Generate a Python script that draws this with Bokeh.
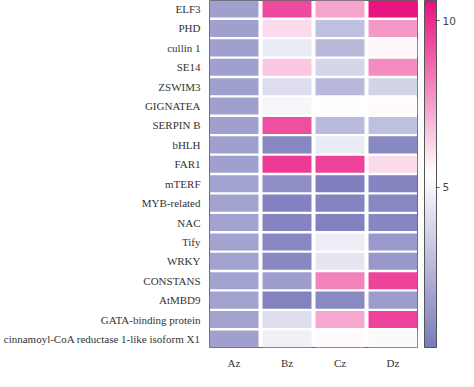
import numpy as np
from bokeh.plotting import figure
from bokeh.models import (ColumnDataSource, LinearColorMapper, ColorBar, FixedTicker,
                          Range1d)
from bokeh.embed import file_html
from bokeh.resources import INLINE

genes = ["ELF3", "PHD", "cullin 1", "SE14", "ZSWIM3", "GIGNATEA", "SERPIN B", "bHLH",
         "FAR1", "mTERF", "MYB-related", "NAC", "Tify", "WRKY", "CONSTANS", "AtMBD9",
         "GATA-binding protein", "cinnamoyl-CoA reductase 1-like isoform X1"]
samples = ["Az", "Bz", "Cz", "Dz"]

az = [1.7, 1.7, 1.7, 1.7, 1.7, 1.7, 1.7, 1.7, 1.7, 1.8, 1.8, 1.8, 1.8, 1.8, 1.8, 1.8, 1.8, 1.7]
bz = [9.3, 6.2, 4.6, 6.6, 4.1, 5.0, 9.2, 0.7, 9.7, 1.0, 0.5, 0.6, 0.7, 0.7, 1.6, 0.55, 4.1, 4.8]
cz = [7.4, 2.9, 2.6, 3.8, 2.6, 5.4, 2.7, 4.6, 9.5, 0.4, 0.6, 0.5, 4.7, 4.4, 8.1, 0.8, 7.3, 5.5]
dz = [10.5, 7.6, 5.6, 7.9, 3.7, 5.5, 2.9, 0.75, 6.2, 0.6, 0.7, 0.65, 1.4, 1.3, 9.5, 1.5, 9.5, 5.2]
series = [az, bz, cz, dz]

cbar_ticks = [5, 10]
vmin, vmax = 0.2, 10.6


def make_palette(stops, n=256):
    out = []
    pos = np.linspace(0, 1, len(stops))
    rgb = [tuple(int(s[i:i + 2], 16) for i in (1, 3, 5)) for s in stops]
    for t in np.linspace(0, 1, n):
        k = min(int(t * (len(stops) - 1)), len(stops) - 2)
        f = (t - pos[k]) / (pos[k + 1] - pos[k])
        c = [round(rgb[k][j] + (rgb[k + 1][j] - rgb[k][j]) * f) for j in range(3)]
        out.append("#%02x%02x%02x" % tuple(c))
    return out


palette = make_palette(["#7b7bbc", "#ffffff", "#e8117f"])
mapper = LinearColorMapper(palette=palette, low=vmin, high=vmax)

xs, ys, vals = [], [], []
for i, s in enumerate(samples):
    for j, g in enumerate(genes):
        xs.append(i)
        ys.append(len(genes) - 1 - j)
        vals.append(series[i][j])
src = ColumnDataSource(dict(x=xs, y=ys, v=vals))

gx = 0.076
gy = 0.12
p = figure(width=458, height=371, output_backend="svg", toolbar_location=None,
           x_range=Range1d(-0.5 + gx / 2, len(samples) - 0.5 - gx / 2),
           y_range=Range1d(-0.5 + gy / 2, len(genes) - 0.5 - gy / 2),
           min_border_left=200, min_border_right=38, min_border_top=0, min_border_bottom=17)
p.grid.visible = False
p.outline_line_color = "#666666"
p.outline_line_width = 1
p.background_fill_color = "white"

p.rect(x="x", y="y", width=1 - gx, height=1 - gy, source=src,
       fill_color={"field": "v", "transform": mapper}, line_color=None)

p.xaxis.ticker = FixedTicker(ticks=list(range(len(samples))))
p.xaxis.major_label_overrides = {i: s for i, s in enumerate(samples)}
p.yaxis.ticker = FixedTicker(ticks=list(range(len(genes))))
p.yaxis.major_label_overrides = {len(genes) - 1 - j: g for j, g in enumerate(genes)}
for ax in (p.xaxis, p.yaxis):
    ax.axis_line_color = None
    ax.major_tick_line_color = None
    ax.minor_tick_line_color = None
    ax.major_label_text_font = "Liberation Serif"
    ax.major_label_text_font_size = "11px"
    ax.major_label_text_color = "#333333"
    ax.major_label_standoff = 3
p.xaxis.major_label_standoff = 3

cb = ColorBar(color_mapper=mapper, ticker=FixedTicker(ticks=cbar_ticks), width=12,
              location=(7, 0), margin=0, padding=0,
              bar_line_color="#555555", bar_line_width=1,
              major_tick_line_color="#555555", major_tick_in=0, major_tick_out=3,
              minor_tick_line_color=None,
              major_label_text_font="DejaVu Sans", major_label_text_font_size="10.5px",
              major_label_text_color="#444444", label_standoff=3,
              background_fill_color=None, border_line_color=None)
p.add_layout(cb, "right")

open("out.html", "w").write(file_html(p, INLINE))
